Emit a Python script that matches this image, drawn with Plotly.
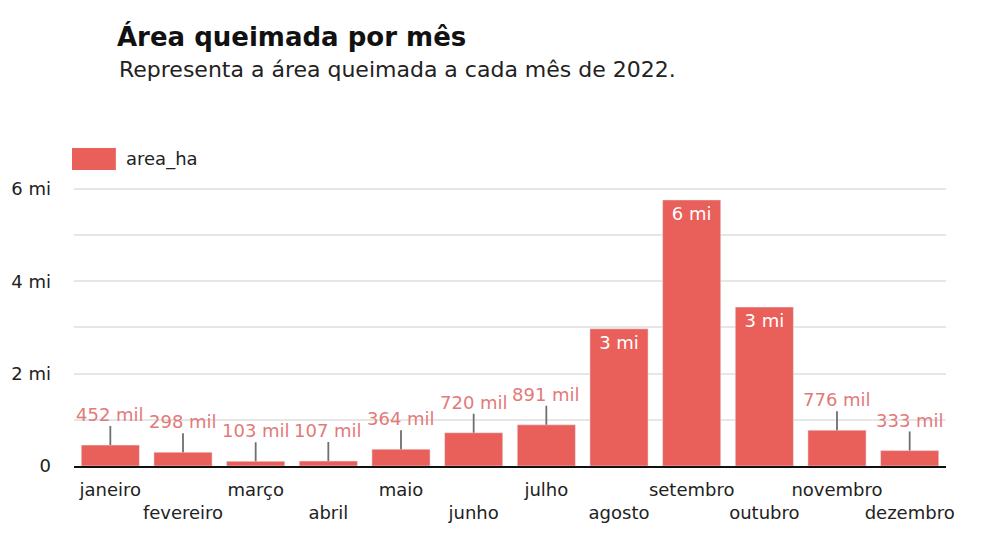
import plotly.graph_objects as go

months = ["janeiro", "fevereiro", "março", "abril", "maio", "junho", "julho",
          "agosto", "setembro", "outubro", "novembro", "dezembro"]
area_ha = [452000, 298000, 103000, 107000, 364000, 720000, 891000,
           2970000, 5760000, 3440000, 776000, 333000]
labels = ["452 mil", "298 mil", "103 mil", "107 mil", "364 mil", "720 mil", "891 mil",
          "3 mi", "6 mi", "3 mi", "776 mil", "333 mil"]
y_tickvals = [0, 1e6, 2e6, 3e6, 4e6, 5e6, 6e6]
y_ticktext = ["0", "", "2 mi", "", "4 mi", "", "6 mi"]

BAR = "#e9605a"
LBL = "#e27a7a"
FONT = "DejaVu Sans"

inside = [v >= 2e6 for v in area_ha]
bar_text = [t if ins else "" for t, ins in zip(labels, inside)]
x_ticktext = [m if i % 2 == 0 else "<br>" + m for i, m in enumerate(months)]

fig = go.Figure()
fig.add_trace(go.Bar(
    x=months, y=area_ha, marker_color=BAR, name="area_ha",
    text=bar_text, textposition="inside", insidetextanchor="end",
    textfont=dict(color="white", size=18, family=FONT),
    showlegend=False, cliponaxis=False,
))

for m, v, t, ins in zip(months, area_ha, labels, inside):
    if not ins:
        fig.add_annotation(x=m, y=v, text=t, showarrow=True, arrowhead=0,
                           arrowwidth=1.8, arrowcolor="#6f6f6f", ax=0, ay=-19,
                           yanchor="bottom", font=dict(color=LBL, size=18, family=FONT),
                           standoff=0, startstandoff=0, borderpad=0)

# legend
fig.add_shape(type="rect", xref="paper", yref="paper", x0=-0.0023, x1=0.048,
              y0=1.017, y1=1.093, fillcolor=BAR, line_width=0)
fig.add_annotation(xref="paper", yref="paper", x=0.0573, y=1.055, text="area_ha",
                   showarrow=False, xanchor="left", yanchor="middle",
                   font=dict(size=18, color="#222", family=FONT))

# subtitle
fig.add_annotation(xref="paper", yref="paper", x=0.0493, y=1.361, xanchor="left",
                   yanchor="middle", showarrow=False,
                   text="Representa a área queimada a cada mês de 2022.",
                   font=dict(size=22, color="#222", family=FONT))

fig.update_layout(
    width=976, height=546,
    margin=dict(l=66, r=38, t=167, b=88),
    paper_bgcolor="white", plot_bgcolor="white",
    bargap=0.2,
    font=dict(family=FONT, color="#222"),
    title=dict(
        text="<b>Área queimada por mês</b>",
        x=109/976, xanchor="left", y=1 - 29/546, yanchor="middle",
        font=dict(size=26, color="#111", family=FONT),
    ),
    xaxis=dict(tickmode="array", tickvals=months, ticktext=x_ticktext,
               tickangle=0, tickfont=dict(size=18, color="#222"), showgrid=False,
               showline=True, linecolor="#111", linewidth=2, ticks="",
               ticklabelstandoff=6, automargin=False),
    yaxis=dict(range=[0, 6.3e6], tickmode="array", tickvals=y_tickvals,
               ticktext=y_ticktext, tickfont=dict(size=18, color="#222"),
               showgrid=True, gridcolor="#e6e6e6", gridwidth=1.5,
               zeroline=False, ticks="", ticklabelstandoff=22, automargin=False),
)

fig.write_html("out.html")
